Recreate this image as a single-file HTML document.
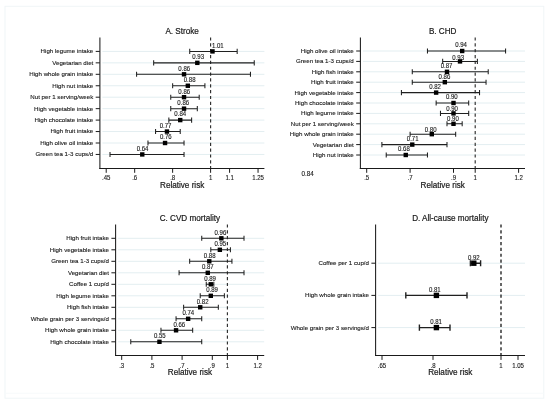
<!DOCTYPE html>
<html lang="en"><head><meta charset="utf-8"><title>Forest plots</title>
<style>html,body{margin:0;padding:0;background:#fff;}body{width:550px;height:405px;overflow:hidden;}svg{display:block;}text{font-family:"Liberation Sans", sans-serif;fill:#1a1a1a;stroke:#1a1a1a;stroke-width:0.12px;}.cat{font-size:6.17px;text-anchor:end;}.tk{font-size:6.3px;text-anchor:middle;}.val{font-size:6.3px;text-anchor:middle;}.ttl{font-size:8.15px;text-anchor:middle;stroke-width:0.2px;}.axt{font-size:8.15px;text-anchor:middle;stroke-width:0.2px;}</style></head><body>
<svg width="550" height="405" viewBox="0 0 550 405">
<rect x="0" y="0" width="550" height="405" fill="#ffffff"/>
<rect x="5" y="6.3" width="538.8" height="391.9" fill="none" stroke="#f0f5f7" stroke-width="1"/>
<line x1="5" y1="393.2" x2="543.8" y2="393.2" stroke="#f7fafb" stroke-width="1"/>
<g>
<line x1="102.40" y1="51.40" x2="264.40" y2="51.40" stroke="#e3eef1" stroke-width="1"/>
<line x1="102.40" y1="62.85" x2="264.40" y2="62.85" stroke="#e3eef1" stroke-width="1"/>
<line x1="102.40" y1="74.30" x2="264.40" y2="74.30" stroke="#e3eef1" stroke-width="1"/>
<line x1="102.40" y1="85.75" x2="264.40" y2="85.75" stroke="#e3eef1" stroke-width="1"/>
<line x1="102.40" y1="97.20" x2="264.40" y2="97.20" stroke="#e3eef1" stroke-width="1"/>
<line x1="102.40" y1="108.65" x2="264.40" y2="108.65" stroke="#e3eef1" stroke-width="1"/>
<line x1="102.40" y1="120.10" x2="264.40" y2="120.10" stroke="#e3eef1" stroke-width="1"/>
<line x1="102.40" y1="131.55" x2="264.40" y2="131.55" stroke="#e3eef1" stroke-width="1"/>
<line x1="102.40" y1="143.00" x2="264.40" y2="143.00" stroke="#e3eef1" stroke-width="1"/>
<line x1="102.40" y1="154.45" x2="264.40" y2="154.45" stroke="#e3eef1" stroke-width="1"/>
<text class="ttl" x="182.15" y="33.60">A. Stroke</text>
<line x1="210.60" y1="37.40" x2="210.60" y2="168.40" stroke="#2e2e2e" stroke-width="1.15" stroke-dasharray="3.2 2.65"/>
<text class="cat" x="93.30" y="53.30">High legume intake</text>
<line x1="95.70" y1="51.40" x2="99.90" y2="51.40" stroke="#1a1a1a" stroke-width="1"/>
<path d="M189.72 51.40H237.17M189.72 48.85V53.95M237.17 48.85V53.95" stroke="#202020" stroke-width="1.05" fill="none"/>
<rect x="210.30" y="49.20" width="4.40" height="4.40" fill="#000"/>
<text class="val" transform="translate(217.80 47.70) scale(.96 1)">1.01</text>
<text class="cat" x="93.30" y="64.75">Vegetarian diet</text>
<line x1="95.70" y1="62.85" x2="99.90" y2="62.85" stroke="#1a1a1a" stroke-width="1"/>
<path d="M153.66 62.85H254.25M153.66 60.30V65.40M254.25 60.30V65.40" stroke="#202020" stroke-width="1.05" fill="none"/>
<rect x="195.11" y="60.65" width="4.40" height="4.40" fill="#000"/>
<text class="val" transform="translate(198.11 59.15) scale(.96 1)">0.93</text>
<text class="cat" x="93.30" y="76.20">High whole grain intake</text>
<line x1="95.70" y1="74.30" x2="99.90" y2="74.30" stroke="#1a1a1a" stroke-width="1"/>
<path d="M136.58 74.30H250.46M136.58 71.75V76.85M250.46 71.75V76.85" stroke="#202020" stroke-width="1.05" fill="none"/>
<rect x="181.83" y="72.10" width="4.40" height="4.40" fill="#000"/>
<text class="val" transform="translate(184.23 70.60) scale(.96 1)">0.86</text>
<text class="cat" x="93.30" y="87.65">High nut intake</text>
<line x1="95.70" y1="85.75" x2="99.90" y2="85.75" stroke="#1a1a1a" stroke-width="1"/>
<path d="M172.64 85.75H204.91M172.64 83.20V88.30M204.91 83.20V88.30" stroke="#202020" stroke-width="1.05" fill="none"/>
<rect x="185.62" y="83.55" width="4.40" height="4.40" fill="#000"/>
<text class="val" transform="translate(189.62 82.05) scale(.96 1)">0.88</text>
<text class="cat" x="93.30" y="99.10">Nut per 1 serving/week</text>
<line x1="95.70" y1="97.20" x2="99.90" y2="97.20" stroke="#1a1a1a" stroke-width="1"/>
<path d="M170.74 97.20H199.21M170.74 94.65V99.75M199.21 94.65V99.75" stroke="#202020" stroke-width="1.05" fill="none"/>
<rect x="181.83" y="95.00" width="4.40" height="4.40" fill="#000"/>
<text class="val" transform="translate(184.23 93.50) scale(.96 1)">0.86</text>
<text class="cat" x="93.30" y="110.55">High vegetable intake</text>
<line x1="95.70" y1="108.65" x2="99.90" y2="108.65" stroke="#1a1a1a" stroke-width="1"/>
<path d="M170.74 108.65H197.31M170.74 106.10V111.20M197.31 106.10V111.20" stroke="#202020" stroke-width="1.05" fill="none"/>
<rect x="181.83" y="106.45" width="4.40" height="4.40" fill="#000"/>
<text class="val" transform="translate(183.23 104.95) scale(.96 1)">0.86</text>
<text class="cat" x="93.30" y="122.00">High chocolate intake</text>
<line x1="95.70" y1="120.10" x2="99.90" y2="120.10" stroke="#1a1a1a" stroke-width="1"/>
<path d="M168.84 120.10H191.62M168.84 117.55V122.65M191.62 117.55V122.65" stroke="#202020" stroke-width="1.05" fill="none"/>
<rect x="178.03" y="117.90" width="4.40" height="4.40" fill="#000"/>
<text class="val" transform="translate(180.23 116.40) scale(.96 1)">0.84</text>
<text class="cat" x="93.30" y="133.45">High fruit intake</text>
<line x1="95.70" y1="131.55" x2="99.90" y2="131.55" stroke="#1a1a1a" stroke-width="1"/>
<path d="M155.56 131.55H180.23M155.56 129.00V134.10M180.23 129.00V134.10" stroke="#202020" stroke-width="1.05" fill="none"/>
<rect x="164.75" y="129.35" width="4.40" height="4.40" fill="#000"/>
<text class="val" transform="translate(165.55 127.85) scale(.96 1)">0.77</text>
<text class="cat" x="93.30" y="144.90">High olive oil intake</text>
<line x1="95.70" y1="143.00" x2="99.90" y2="143.00" stroke="#1a1a1a" stroke-width="1"/>
<path d="M147.97 143.00H184.03M147.97 140.45V145.55M184.03 140.45V145.55" stroke="#202020" stroke-width="1.05" fill="none"/>
<rect x="162.85" y="140.80" width="4.40" height="4.40" fill="#000"/>
<text class="val" transform="translate(165.85 139.30) scale(.96 1)">0.76</text>
<text class="cat" x="93.30" y="156.35">Green tea 1-3 cups/d</text>
<line x1="95.70" y1="154.45" x2="99.90" y2="154.45" stroke="#1a1a1a" stroke-width="1"/>
<path d="M110.01 154.45H184.03M110.01 151.90V157.00M184.03 151.90V157.00" stroke="#202020" stroke-width="1.05" fill="none"/>
<rect x="140.07" y="152.25" width="4.40" height="4.40" fill="#000"/>
<text class="val" transform="translate(142.57 150.75) scale(.96 1)">0.64</text>
<line x1="99.90" y1="37.40" x2="99.90" y2="168.90" stroke="#1a1a1a" stroke-width="1.05"/>
<line x1="99.30" y1="168.40" x2="264.40" y2="168.40" stroke="#1a1a1a" stroke-width="1.05"/>
<line x1="106.21" y1="168.40" x2="106.21" y2="172.80" stroke="#1a1a1a" stroke-width="1"/>
<text class="tk" transform="translate(106.21 180.40) scale(.96 1)">.45</text>
<line x1="134.68" y1="168.40" x2="134.68" y2="172.80" stroke="#1a1a1a" stroke-width="1"/>
<text class="tk" transform="translate(134.68 180.40) scale(.96 1)">.6</text>
<line x1="172.64" y1="168.40" x2="172.64" y2="172.80" stroke="#1a1a1a" stroke-width="1"/>
<text class="tk" transform="translate(172.64 180.40) scale(.96 1)">.8</text>
<line x1="210.60" y1="168.40" x2="210.60" y2="172.80" stroke="#1a1a1a" stroke-width="1"/>
<text class="tk" transform="translate(210.60 180.40) scale(.96 1)">1</text>
<line x1="229.58" y1="168.40" x2="229.58" y2="172.80" stroke="#1a1a1a" stroke-width="1"/>
<text class="tk" transform="translate(229.58 180.40) scale(.96 1)">1.1</text>
<line x1="258.05" y1="168.40" x2="258.05" y2="172.80" stroke="#1a1a1a" stroke-width="1"/>
<text class="tk" transform="translate(258.05 180.40) scale(.96 1)">1.25</text>
<text class="axt" x="182.15" y="188.20">Relative risk</text>
</g>
<g>
<line x1="362.90" y1="51.00" x2="525.00" y2="51.00" stroke="#e3eef1" stroke-width="1"/>
<line x1="362.90" y1="61.40" x2="525.00" y2="61.40" stroke="#e3eef1" stroke-width="1"/>
<line x1="362.90" y1="71.80" x2="525.00" y2="71.80" stroke="#e3eef1" stroke-width="1"/>
<line x1="362.90" y1="82.20" x2="525.00" y2="82.20" stroke="#e3eef1" stroke-width="1"/>
<line x1="362.90" y1="92.60" x2="525.00" y2="92.60" stroke="#e3eef1" stroke-width="1"/>
<line x1="362.90" y1="103.00" x2="525.00" y2="103.00" stroke="#e3eef1" stroke-width="1"/>
<line x1="362.90" y1="113.40" x2="525.00" y2="113.40" stroke="#e3eef1" stroke-width="1"/>
<line x1="362.90" y1="123.80" x2="525.00" y2="123.80" stroke="#e3eef1" stroke-width="1"/>
<line x1="362.90" y1="134.20" x2="525.00" y2="134.20" stroke="#e3eef1" stroke-width="1"/>
<line x1="362.90" y1="144.60" x2="525.00" y2="144.60" stroke="#e3eef1" stroke-width="1"/>
<line x1="362.90" y1="155.00" x2="525.00" y2="155.00" stroke="#e3eef1" stroke-width="1"/>
<text class="ttl" x="442.70" y="33.60">B. CHD</text>
<line x1="475.20" y1="37.40" x2="475.20" y2="168.40" stroke="#2e2e2e" stroke-width="1.15" stroke-dasharray="3.2 2.65"/>
<text class="cat" x="353.80" y="52.90">High olive oil intake</text>
<line x1="356.20" y1="51.00" x2="360.40" y2="51.00" stroke="#1a1a1a" stroke-width="1"/>
<path d="M427.46 51.00H505.58M427.46 48.45V53.55M505.58 48.45V53.55" stroke="#202020" stroke-width="1.05" fill="none"/>
<rect x="459.98" y="48.80" width="4.40" height="4.40" fill="#000"/>
<text class="val" transform="translate(461.08 47.30) scale(.96 1)">0.94</text>
<text class="cat" x="353.80" y="63.30">Green tea 1-3 cups/d</text>
<line x1="356.20" y1="61.40" x2="360.40" y2="61.40" stroke="#1a1a1a" stroke-width="1"/>
<path d="M442.65 61.40H477.37M442.65 58.85V63.95M477.37 58.85V63.95" stroke="#202020" stroke-width="1.05" fill="none"/>
<rect x="457.81" y="59.20" width="4.40" height="4.40" fill="#000"/>
<text class="val" transform="translate(458.11 59.50) scale(.96 1)">0.93</text>
<text class="cat" x="353.80" y="73.70">High fish intake</text>
<line x1="356.20" y1="71.80" x2="360.40" y2="71.80" stroke="#1a1a1a" stroke-width="1"/>
<path d="M412.27 71.80H488.22M412.27 69.25V74.35M488.22 69.25V74.35" stroke="#202020" stroke-width="1.05" fill="none"/>
<rect x="444.79" y="69.60" width="4.40" height="4.40" fill="#000"/>
<text class="val" transform="translate(446.59 68.10) scale(.96 1)">0.87</text>
<text class="cat" x="353.80" y="84.10">High fruit intake</text>
<line x1="356.20" y1="82.20" x2="360.40" y2="82.20" stroke="#1a1a1a" stroke-width="1"/>
<path d="M412.27 82.20H486.05M412.27 79.65V84.75M486.05 79.65V84.75" stroke="#202020" stroke-width="1.05" fill="none"/>
<rect x="442.62" y="80.00" width="4.40" height="4.40" fill="#000"/>
<text class="val" transform="translate(444.42 78.50) scale(.96 1)">0.86</text>
<text class="cat" x="353.80" y="94.50">High vegetable intake</text>
<line x1="356.20" y1="92.60" x2="360.40" y2="92.60" stroke="#1a1a1a" stroke-width="1"/>
<path d="M401.42 92.60H479.54M401.42 90.05V95.15M479.54 90.05V95.15" stroke="#202020" stroke-width="1.05" fill="none"/>
<rect x="433.94" y="90.40" width="4.40" height="4.40" fill="#000"/>
<text class="val" transform="translate(435.04 88.90) scale(.96 1)">0.82</text>
<text class="cat" x="353.80" y="104.90">High chocolate intake</text>
<line x1="356.20" y1="103.00" x2="360.40" y2="103.00" stroke="#1a1a1a" stroke-width="1"/>
<path d="M436.14 103.00H468.69M436.14 100.45V105.55M468.69 100.45V105.55" stroke="#202020" stroke-width="1.05" fill="none"/>
<rect x="451.30" y="100.80" width="4.40" height="4.40" fill="#000"/>
<text class="val" transform="translate(451.80 99.30) scale(.96 1)">0.90</text>
<text class="cat" x="353.80" y="115.30">High legume intake</text>
<line x1="356.20" y1="113.40" x2="360.40" y2="113.40" stroke="#1a1a1a" stroke-width="1"/>
<path d="M440.48 113.40H468.69M440.48 110.85V115.95M468.69 110.85V115.95" stroke="#202020" stroke-width="1.05" fill="none"/>
<rect x="451.30" y="111.20" width="4.40" height="4.40" fill="#000"/>
<text class="val" transform="translate(452.10 110.70) scale(.96 1)">0.90</text>
<text class="cat" x="353.80" y="125.70">Nut per 1 serving/week</text>
<line x1="356.20" y1="123.80" x2="360.40" y2="123.80" stroke="#1a1a1a" stroke-width="1"/>
<path d="M446.99 123.80H462.18M446.99 121.25V126.35M462.18 121.25V126.35" stroke="#202020" stroke-width="1.05" fill="none"/>
<rect x="451.30" y="121.60" width="4.40" height="4.40" fill="#000"/>
<text class="val" transform="translate(452.90 121.10) scale(.96 1)">0.90</text>
<text class="cat" x="353.80" y="136.10">High whole grain intake</text>
<line x1="356.20" y1="134.20" x2="360.40" y2="134.20" stroke="#1a1a1a" stroke-width="1"/>
<path d="M410.10 134.20H455.67M410.10 131.65V136.75M455.67 131.65V136.75" stroke="#202020" stroke-width="1.05" fill="none"/>
<rect x="429.60" y="132.00" width="4.40" height="4.40" fill="#000"/>
<text class="val" transform="translate(430.70 131.50) scale(.96 1)">0.80</text>
<text class="cat" x="353.80" y="146.50">Vegetarian diet</text>
<line x1="356.20" y1="144.60" x2="360.40" y2="144.60" stroke="#1a1a1a" stroke-width="1"/>
<path d="M381.89 144.60H446.99M381.89 142.05V147.15M446.99 142.05V147.15" stroke="#202020" stroke-width="1.05" fill="none"/>
<rect x="410.07" y="142.40" width="4.40" height="4.40" fill="#000"/>
<text class="val" transform="translate(412.67 141.40) scale(.96 1)">0.71</text>
<text class="cat" x="353.80" y="156.90">High nut intake</text>
<line x1="356.20" y1="155.00" x2="360.40" y2="155.00" stroke="#1a1a1a" stroke-width="1"/>
<path d="M386.23 155.00H427.46M386.23 152.45V157.55M427.46 152.45V157.55" stroke="#202020" stroke-width="1.05" fill="none"/>
<rect x="403.56" y="152.80" width="4.40" height="4.40" fill="#000"/>
<text class="val" transform="translate(403.86 150.80) scale(.96 1)">0.68</text>
<line x1="360.40" y1="37.40" x2="360.40" y2="168.90" stroke="#1a1a1a" stroke-width="1.05"/>
<line x1="359.80" y1="168.40" x2="525.00" y2="168.40" stroke="#1a1a1a" stroke-width="1.05"/>
<line x1="366.70" y1="168.40" x2="366.70" y2="172.80" stroke="#1a1a1a" stroke-width="1"/>
<text class="tk" transform="translate(366.70 180.40) scale(.96 1)">.5</text>
<line x1="410.10" y1="168.40" x2="410.10" y2="172.80" stroke="#1a1a1a" stroke-width="1"/>
<text class="tk" transform="translate(410.10 180.40) scale(.96 1)">.7</text>
<line x1="453.50" y1="168.40" x2="453.50" y2="172.80" stroke="#1a1a1a" stroke-width="1"/>
<text class="tk" transform="translate(453.50 180.40) scale(.96 1)">.9</text>
<line x1="475.20" y1="168.40" x2="475.20" y2="172.80" stroke="#1a1a1a" stroke-width="1"/>
<text class="tk" transform="translate(475.20 180.40) scale(.96 1)">1</text>
<line x1="518.60" y1="168.40" x2="518.60" y2="172.80" stroke="#1a1a1a" stroke-width="1"/>
<text class="tk" transform="translate(518.60 180.40) scale(.96 1)">1.2</text>
<text class="axt" x="442.70" y="188.20">Relative risk</text>
</g>
<g>
<line x1="118.10" y1="238.30" x2="264.20" y2="238.30" stroke="#e3eef1" stroke-width="1"/>
<line x1="118.10" y1="249.80" x2="264.20" y2="249.80" stroke="#e3eef1" stroke-width="1"/>
<line x1="118.10" y1="261.30" x2="264.20" y2="261.30" stroke="#e3eef1" stroke-width="1"/>
<line x1="118.10" y1="272.80" x2="264.20" y2="272.80" stroke="#e3eef1" stroke-width="1"/>
<line x1="118.10" y1="284.30" x2="264.20" y2="284.30" stroke="#e3eef1" stroke-width="1"/>
<line x1="118.10" y1="295.80" x2="264.20" y2="295.80" stroke="#e3eef1" stroke-width="1"/>
<line x1="118.10" y1="307.30" x2="264.20" y2="307.30" stroke="#e3eef1" stroke-width="1"/>
<line x1="118.10" y1="318.80" x2="264.20" y2="318.80" stroke="#e3eef1" stroke-width="1"/>
<line x1="118.10" y1="330.30" x2="264.20" y2="330.30" stroke="#e3eef1" stroke-width="1"/>
<line x1="118.10" y1="341.80" x2="264.20" y2="341.80" stroke="#e3eef1" stroke-width="1"/>
<text class="ttl" x="189.90" y="220.60">C. CVD mortality</text>
<line x1="227.40" y1="224.40" x2="227.40" y2="355.50" stroke="#2e2e2e" stroke-width="1.15" stroke-dasharray="3.2 2.65"/>
<text class="cat" x="109.00" y="240.20">High fruit intake</text>
<line x1="111.40" y1="238.30" x2="115.60" y2="238.30" stroke="#1a1a1a" stroke-width="1"/>
<path d="M201.73 238.30H244.01M201.73 235.75V240.85M244.01 235.75V240.85" stroke="#202020" stroke-width="1.05" fill="none"/>
<rect x="219.16" y="236.10" width="4.40" height="4.40" fill="#000"/>
<text class="val" transform="translate(220.36 234.60) scale(.96 1)">0.96</text>
<text class="cat" x="109.00" y="251.70">High vegetable intake</text>
<line x1="111.40" y1="249.80" x2="115.60" y2="249.80" stroke="#1a1a1a" stroke-width="1"/>
<path d="M210.79 249.80H230.42M210.79 247.25V252.35M230.42 247.25V252.35" stroke="#202020" stroke-width="1.05" fill="none"/>
<rect x="217.65" y="247.60" width="4.40" height="4.40" fill="#000"/>
<text class="val" transform="translate(220.25 246.10) scale(.96 1)">0.95</text>
<text class="cat" x="109.00" y="263.20">Green tea 1-3 cups/d</text>
<line x1="111.40" y1="261.30" x2="115.60" y2="261.30" stroke="#1a1a1a" stroke-width="1"/>
<path d="M189.65 261.30H231.93M189.65 258.75V263.85M231.93 258.75V263.85" stroke="#202020" stroke-width="1.05" fill="none"/>
<rect x="207.08" y="259.10" width="4.40" height="4.40" fill="#000"/>
<text class="val" transform="translate(209.68 257.60) scale(.96 1)">0.88</text>
<text class="cat" x="109.00" y="274.70">Vegetarian diet</text>
<line x1="111.40" y1="272.80" x2="115.60" y2="272.80" stroke="#1a1a1a" stroke-width="1"/>
<path d="M179.08 272.80H244.01M179.08 270.25V275.35M244.01 270.25V275.35" stroke="#202020" stroke-width="1.05" fill="none"/>
<rect x="205.57" y="270.60" width="4.40" height="4.40" fill="#000"/>
<text class="val" transform="translate(207.77 269.10) scale(.96 1)">0.87</text>
<text class="cat" x="109.00" y="286.20">Coffee 1 cup/d</text>
<line x1="111.40" y1="284.30" x2="115.60" y2="284.30" stroke="#1a1a1a" stroke-width="1"/>
<path d="M206.26 284.30H213.81M206.26 281.75V286.85M213.81 281.75V286.85" stroke="#202020" stroke-width="1.05" fill="none"/>
<rect x="208.59" y="282.10" width="4.40" height="4.40" fill="#000"/>
<text class="val" transform="translate(209.99 280.60) scale(.96 1)">0.89</text>
<text class="cat" x="109.00" y="297.70">High legume intake</text>
<line x1="111.40" y1="295.80" x2="115.60" y2="295.80" stroke="#1a1a1a" stroke-width="1"/>
<path d="M200.22 295.80H224.38M200.22 293.25V298.35M224.38 293.25V298.35" stroke="#202020" stroke-width="1.05" fill="none"/>
<rect x="208.59" y="293.60" width="4.40" height="4.40" fill="#000"/>
<text class="val" transform="translate(211.99 292.10) scale(.96 1)">0.89</text>
<text class="cat" x="109.00" y="309.20">High fish intake</text>
<line x1="111.40" y1="307.30" x2="115.60" y2="307.30" stroke="#1a1a1a" stroke-width="1"/>
<path d="M183.61 307.30H218.34M183.61 304.75V309.85M218.34 304.75V309.85" stroke="#202020" stroke-width="1.05" fill="none"/>
<rect x="198.02" y="305.10" width="4.40" height="4.40" fill="#000"/>
<text class="val" transform="translate(202.62 303.60) scale(.96 1)">0.82</text>
<text class="cat" x="109.00" y="320.70">Whole grain per 3 servings/d</text>
<line x1="111.40" y1="318.80" x2="115.60" y2="318.80" stroke="#1a1a1a" stroke-width="1"/>
<path d="M176.06 318.80H201.73M176.06 316.25V321.35M201.73 316.25V321.35" stroke="#202020" stroke-width="1.05" fill="none"/>
<rect x="185.94" y="316.60" width="4.40" height="4.40" fill="#000"/>
<text class="val" transform="translate(188.34 315.10) scale(.96 1)">0.74</text>
<text class="cat" x="109.00" y="332.20">High whole grain intake</text>
<line x1="111.40" y1="330.30" x2="115.60" y2="330.30" stroke="#1a1a1a" stroke-width="1"/>
<path d="M160.96 330.30H192.67M160.96 327.75V332.85M192.67 327.75V332.85" stroke="#202020" stroke-width="1.05" fill="none"/>
<rect x="173.86" y="328.10" width="4.40" height="4.40" fill="#000"/>
<text class="val" transform="translate(179.26 326.60) scale(.96 1)">0.66</text>
<text class="cat" x="109.00" y="343.70">High chocolate intake</text>
<line x1="111.40" y1="341.80" x2="115.60" y2="341.80" stroke="#1a1a1a" stroke-width="1"/>
<path d="M130.76 341.80H201.73M130.76 339.25V344.35M201.73 339.25V344.35" stroke="#202020" stroke-width="1.05" fill="none"/>
<rect x="157.25" y="339.60" width="4.40" height="4.40" fill="#000"/>
<text class="val" transform="translate(159.85 338.10) scale(.96 1)">0.55</text>
<line x1="115.60" y1="224.40" x2="115.60" y2="356.00" stroke="#1a1a1a" stroke-width="1.05"/>
<line x1="115.00" y1="355.50" x2="264.20" y2="355.50" stroke="#1a1a1a" stroke-width="1.05"/>
<line x1="121.70" y1="355.50" x2="121.70" y2="359.90" stroke="#1a1a1a" stroke-width="1"/>
<text class="tk" transform="translate(121.70 367.50) scale(.96 1)">.3</text>
<line x1="151.90" y1="355.50" x2="151.90" y2="359.90" stroke="#1a1a1a" stroke-width="1"/>
<text class="tk" transform="translate(151.90 367.50) scale(.96 1)">.5</text>
<line x1="182.10" y1="355.50" x2="182.10" y2="359.90" stroke="#1a1a1a" stroke-width="1"/>
<text class="tk" transform="translate(182.10 367.50) scale(.96 1)">.7</text>
<line x1="212.30" y1="355.50" x2="212.30" y2="359.90" stroke="#1a1a1a" stroke-width="1"/>
<text class="tk" transform="translate(212.30 367.50) scale(.96 1)">.9</text>
<line x1="227.40" y1="355.50" x2="227.40" y2="359.90" stroke="#1a1a1a" stroke-width="1"/>
<text class="tk" transform="translate(227.40 367.50) scale(.96 1)">1</text>
<line x1="257.60" y1="355.50" x2="257.60" y2="359.90" stroke="#1a1a1a" stroke-width="1"/>
<text class="tk" transform="translate(257.60 367.50) scale(.96 1)">1.2</text>
<text class="axt" x="189.90" y="375.30">Relative risk</text>
</g>
<g>
<line x1="378.10" y1="263.20" x2="525.00" y2="263.20" stroke="#e3eef1" stroke-width="1"/>
<line x1="378.10" y1="295.40" x2="525.00" y2="295.40" stroke="#e3eef1" stroke-width="1"/>
<line x1="378.10" y1="327.60" x2="525.00" y2="327.60" stroke="#e3eef1" stroke-width="1"/>
<text class="ttl" x="450.30" y="220.60">D. All-cause mortality</text>
<line x1="501.00" y1="224.40" x2="501.00" y2="355.50" stroke="#2e2e2e" stroke-width="1.45" stroke-dasharray="3.2 2.65"/>
<text class="cat" x="369.00" y="265.10">Coffee per 1 cup/d</text>
<line x1="371.40" y1="263.20" x2="375.60" y2="263.20" stroke="#1a1a1a" stroke-width="1"/>
<path d="M470.40 263.20H480.60M470.40 260.15V266.25M480.60 260.15V266.25" stroke="#202020" stroke-width="1.40" fill="none"/>
<rect x="471.10" y="260.50" width="5.40" height="5.40" fill="#000"/>
<text class="val" transform="translate(473.80 259.50) scale(.96 1)">0.92</text>
<text class="cat" x="369.00" y="297.30">High whole grain intake</text>
<line x1="371.40" y1="295.40" x2="375.60" y2="295.40" stroke="#1a1a1a" stroke-width="1"/>
<path d="M405.80 295.40H467.00M405.80 292.35V298.45M467.00 292.35V298.45" stroke="#202020" stroke-width="1.40" fill="none"/>
<rect x="433.70" y="292.70" width="5.40" height="5.40" fill="#000"/>
<text class="val" transform="translate(434.80 291.70) scale(.96 1)">0.81</text>
<text class="cat" x="369.00" y="329.50">Whole grain per 3 servings/d</text>
<line x1="371.40" y1="327.60" x2="375.60" y2="327.60" stroke="#1a1a1a" stroke-width="1"/>
<path d="M419.40 327.60H450.00M419.40 324.55V330.65M450.00 324.55V330.65" stroke="#202020" stroke-width="1.40" fill="none"/>
<rect x="433.70" y="324.90" width="5.40" height="5.40" fill="#000"/>
<text class="val" transform="translate(436.10 323.90) scale(.96 1)">0.81</text>
<line x1="375.60" y1="224.40" x2="375.60" y2="356.00" stroke="#1a1a1a" stroke-width="1.05"/>
<line x1="375.00" y1="355.50" x2="525.00" y2="355.50" stroke="#1a1a1a" stroke-width="1.05"/>
<line x1="382.00" y1="355.50" x2="382.00" y2="359.90" stroke="#1a1a1a" stroke-width="1"/>
<text class="tk" transform="translate(382.00 367.50) scale(.96 1)">.65</text>
<line x1="433.00" y1="355.50" x2="433.00" y2="359.90" stroke="#1a1a1a" stroke-width="1"/>
<text class="tk" transform="translate(433.00 367.50) scale(.96 1)">.8</text>
<line x1="501.00" y1="355.50" x2="501.00" y2="359.90" stroke="#1a1a1a" stroke-width="1"/>
<text class="tk" transform="translate(501.00 367.50) scale(.96 1)">1</text>
<line x1="518.00" y1="355.50" x2="518.00" y2="359.90" stroke="#1a1a1a" stroke-width="1"/>
<text class="tk" transform="translate(518.00 367.50) scale(.96 1)">1.05</text>
<text class="axt" x="450.30" y="375.30">Relative risk</text>
</g>
<text class="val" x="307.7" y="176">0.84</text>
</svg></body></html>
